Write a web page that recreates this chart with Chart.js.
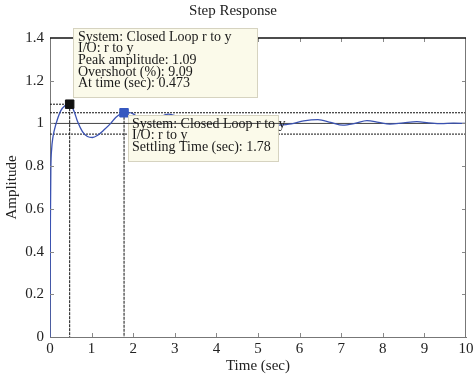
<!doctype html>
<html>
<head>
<meta charset="UTF-8">
<title>Step Response</title>
<script src="https://cdn.jsdelivr.net/npm/chart.js@4/dist/chart.umd.min.js"></script>
<style>
  body { margin: 0; background: #fff; }
</style>
</head>
<body>
<canvas id="canvas" width="474" height="377"></canvas>
<script>
// step response
var times = [0, 0.005, 0.01, 0.02, 0.04, 0.07, 0.1, 0.175, 0.26, 0.35, 0.473, 0.58, 0.66, 0.78, 0.9, 1.02, 1.14, 1.3, 1.46, 1.58, 1.7, 1.78, 1.88, 2.0, 2.2, 2.4, 2.6, 2.85, 3.1, 3.4, 3.7, 4.0, 4.3, 4.6, 4.9, 5.2, 5.5, 5.8, 6.1, 6.44, 6.75, 7.04, 7.33, 7.62, 7.9, 8.17, 8.5, 8.82, 9.1, 9.4, 9.7, 10];
var amplitude = [0, 0.3, 0.55, 0.78, 0.88, 0.935, 0.965, 1.017, 1.06, 1.082, 1.09, 1.056, 1.01, 0.962, 0.939, 0.934, 0.944, 0.97, 1.0, 1.028, 1.045, 1.05, 1.052, 1.045, 1.015, 1.0, 1.025, 1.044, 1.03, 1.0, 0.99, 1.005, 1.02, 1.015, 1.0, 0.99, 0.992, 0.998, 1.012, 1.018, 1.005, 0.992, 1.0, 1.013, 1.005, 0.997, 1.003, 1.008, 1.003, 0.999, 1.001, 1.0];

var xTicks = [0, 1, 2, 3, 4, 5, 6, 7, 8, 9, 10];
var yTicks = ["0", "0.2", "0.4", "0.6", "0.8", "1", "1.2", "1.4"];

var peakTime = 0.473, peakAmp = 1.09;
var settleTime = 1.78, settleAmp = 1.05;
var finalValue = 1, bandHigh = 1.05, bandLow = 0.95;

var peakTip = ["System: Closed Loop r to y", "I/O: r to y", "Peak amplitude: 1.09", "Overshoot (%): 9.09", "At time (sec): 0.473"];
var settleTip = ["System: Closed Loop r to y", "I/O: r to y", "Settling Time (sec): 1.78"];

var serif = "'Liberation Serif', 'DejaVu Serif', serif";

var points = times.map(function(t, i){ return {x: t, y: amplitude[i]}; });

function hline(ctx, y, x0, x1, dash, color) {
	ctx.save();
	ctx.strokeStyle = color;
	ctx.lineWidth = 1;
	ctx.setLineDash(dash);
	ctx.beginPath();
	ctx.moveTo(x0, y);
	ctx.lineTo(x1, y);
	ctx.stroke();
	ctx.restore();
}
function vline(ctx, x, y0, y1, dash, color) {
	ctx.save();
	ctx.strokeStyle = color;
	ctx.lineWidth = 1;
	ctx.setLineDash(dash);
	ctx.beginPath();
	ctx.moveTo(x, y0);
	ctx.lineTo(x, y1);
	ctx.stroke();
	ctx.restore();
}
function tipBox(ctx, x, y, w, h) {
	ctx.save();
	ctx.fillStyle = "#fbfaea";
	ctx.strokeStyle = "#d6d3c0";
	ctx.lineWidth = 1;
	ctx.fillRect(x, y, w, h);
	ctx.strokeRect(x + 0.5, y + 0.5, w - 1, h - 1);
	ctx.restore();
}
function tipText(ctx, lines, x, y, step) {
	ctx.save();
	ctx.fillStyle = "#1a1a1a";
	ctx.font = "14px " + serif;
	ctx.textBaseline = "alphabetic";
	lines.forEach(function(s, i){ ctx.fillText(s, x, y + i * step); });
	ctx.restore();
}

var matlabBits = {
	id: "matlabBits",
	beforeDatasetsDraw: function(chart) {
		var ctx = chart.ctx, a = chart.chartArea;
		var xs = chart.scales.x, ys = chart.scales.y;
		hline(ctx, ys.getPixelForValue(bandHigh), a.left, a.right, [2, 1], "#111");
		hline(ctx, ys.getPixelForValue(bandLow), a.left, a.right, [2, 1], "#111");
		hline(ctx, ys.getPixelForValue(finalValue), a.left, a.right, [], "#444");
		hline(ctx, ys.getPixelForValue(peakAmp), a.left, xs.getPixelForValue(peakTime), [2, 1], "#111");
		vline(ctx, xs.getPixelForValue(peakTime), ys.getPixelForValue(peakAmp), a.bottom, [3, 1], "#111");
		vline(ctx, xs.getPixelForValue(settleTime), ys.getPixelForValue(settleAmp), a.bottom, [3, 1], "#111");
	},
	afterDatasetsDraw: function(chart) {
		var ctx = chart.ctx, a = chart.chartArea;
		var xs = chart.scales.x, ys = chart.scales.y;

		// inward ticks on all four sides
		ctx.save();
		ctx.strokeStyle = "#888";
		ctx.lineWidth = 1;
		xs.ticks.forEach(function(t){
			if (t.value <= xs.min || t.value >= xs.max) return;
			var px = Math.round(xs.getPixelForValue(t.value)) + 0.5;
			ctx.beginPath();
			ctx.moveTo(px, a.bottom); ctx.lineTo(px, a.bottom - 4);
			ctx.moveTo(px, a.top); ctx.lineTo(px, a.top + 4);
			ctx.stroke();
		});
		ys.ticks.forEach(function(t){
			if (t.value <= ys.min || t.value >= ys.max) return;
			var py = Math.round(ys.getPixelForValue(t.value)) + 0.5;
			ctx.beginPath();
			ctx.moveTo(a.left, py); ctx.lineTo(a.left + 4, py);
			ctx.moveTo(a.right, py); ctx.lineTo(a.right - 4, py);
			ctx.stroke();
		});
		// box: top black, right grey
		ctx.strokeStyle = "#777";
		ctx.beginPath();
		ctx.moveTo(a.right - 0.5, a.top); ctx.lineTo(a.right - 0.5, a.bottom);
		ctx.stroke();
		ctx.strokeStyle = "#111";
		ctx.lineWidth = 1.6;
		ctx.beginPath();
		ctx.moveTo(a.left, a.top); ctx.lineTo(a.right, a.top);
		ctx.stroke();
		ctx.restore();

		// settling time datatip
		tipBox(ctx, 128, 115, 151, 47);
		hline(ctx, ys.getPixelForValue(finalValue), 128, 279, [], "#444");
		tipText(ctx, settleTip, 132, 127.5, 11.5);

		// peak datatip
		tipBox(ctx, 73, 28, 185, 70);
		tipText(ctx, peakTip, 78, 40.5, 11.7);
	}
};

var ctx = document.getElementById("canvas").getContext("2d");
window.myChart = new Chart(ctx, {
	type: "line",
	data: {
		datasets: [
			{
				data: [{x: peakTime, y: peakAmp}],
				showLine: false,
				pointStyle: "rect",
				pointRadius: 6,
				backgroundColor: "#111",
				borderColor: "#111",
				order: 0
			},
			{
				data: [{x: settleTime, y: settleAmp}],
				showLine: false,
				pointStyle: "rect",
				pointRadius: 6,
				backgroundColor: "#3658c0",
				borderColor: "#3658c0",
				order: 1
			},
			{
				data: points,
				borderColor: "#3a52b2",
				borderWidth: 1.3,
				pointRadius: 0,
				cubicInterpolationMode: "monotone",
				fill: false,
				order: 2
			}
		]
	},
	options: {
		responsive: false,
		animation: false,
		events: [],
		layout: { padding: { top: 0, right: 8, left: 0, bottom: 0 } },
		plugins: {
			legend: { display: false },
			tooltip: { enabled: false },
			title: {
				display: true,
				text: "Step Response",
				color: "#222",
				font: { family: serif, size: 15, weight: "normal" },
				padding: { top: 2, bottom: 18 }
			}
		},
		scales: {
			x: {
				type: "linear",
				min: 0,
				max: 10,
				afterFit: function(s){ s.height = 40; s.paddingLeft = 0; s.paddingRight = 0; },
				afterBuildTicks: function(s){ s.ticks = xTicks.map(function(v){ return {value: v}; }); },
				ticks: { color: "#222", padding: 3, font: { family: serif, size: 15 } },
				grid: { drawOnChartArea: false, drawTicks: false },
				border: { color: "#777" },
				title: { display: true, text: "Time (sec)", color: "#222", padding: { top: 0, bottom: 2 }, font: { family: serif, size: 15 } }
			},
			y: {
				type: "linear",
				min: 0,
				max: 1.4,
				afterFit: function(s){ s.width = 50; s.paddingTop = 0; s.paddingBottom = 0; },
				afterBuildTicks: function(s){ s.ticks = yTicks.map(function(v){ return {value: parseFloat(v)}; }); },
				ticks: {
					color: "#222",
					padding: 6,
					font: { family: serif, size: 15 },
					callback: function(v, i){ return yTicks[i]; }
				},
				grid: { drawOnChartArea: false, drawTicks: false },
				border: { color: "#777" },
				title: { display: true, text: "Amplitude", color: "#222", padding: { top: 3, bottom: 0 }, font: { family: serif, size: 15 } }
			}
		}
	},
	plugins: [matlabBits]
});
</script>
</body>
</html>
